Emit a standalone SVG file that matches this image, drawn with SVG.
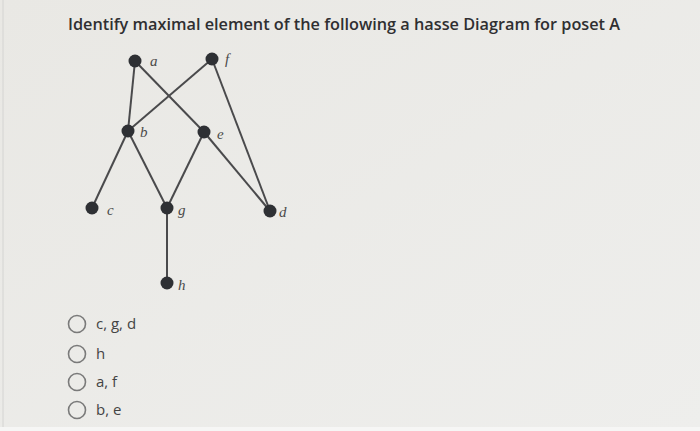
<svg xmlns="http://www.w3.org/2000/svg" width="700" height="431" viewBox="0 0 700 431">
<defs>
<style>
.title{font-family:"Open Sans","Liberation Sans",sans-serif;font-weight:600;font-size:16px;fill:#2f2f31}
.edge{stroke:#4a4a4c;stroke-width:2;fill:none}
.dot{fill:#2e3034}
.lbl{font-family:"Liberation Serif","DejaVu Serif",serif;font-style:italic;font-size:15px;fill:#4a4a4a}
.opt{font-family:"Open Sans","Liberation Sans",sans-serif;font-size:15px;fill:#444}
.radio{fill:none;stroke:#7a7a7a;stroke-width:1.6}
</style>
<linearGradient id="bg" x1="0" y1="0" x2="1" y2="1">
<stop offset="0" stop-color="#e9e8e4"/>
<stop offset="1" stop-color="#eeeeec"/>
</linearGradient>
</defs>
<rect width="700" height="431" fill="url(#bg)"/>
<rect x="0" y="427" width="700" height="4" fill="#f6f6f5"/>
<line x1="3" y1="0" x2="3" y2="427" stroke="#d4d4d2" stroke-width="1"/>
<text class="title" x="68" y="30" textLength="552" lengthAdjust="spacingAndGlyphs">Identify maximal element of the following a hasse Diagram for poset A</text>
<g id="connectors">
<line class="edge" x1="135" y1="61" x2="128" y2="131"/>
<line class="edge" x1="135" y1="61" x2="204" y2="132"/>
<line class="edge" x1="212" y1="59" x2="128" y2="131"/>
<line class="edge" x1="212" y1="59" x2="270" y2="211"/>
<line class="edge" x1="128" y1="131" x2="92" y2="208"/>
<line class="edge" x1="128" y1="131" x2="167" y2="208"/>
<line class="edge" x1="204" y1="132" x2="167" y2="208"/>
<line class="edge" x1="204" y1="132" x2="270" y2="211"/>
<line class="edge" x1="167" y1="208" x2="167" y2="283"/>
</g>
<g id="node-a"><circle class="dot" cx="135" cy="61" r="6.5"/><text class="lbl" x="150" y="66">a</text></g>
<g id="node-f"><circle class="dot" cx="212" cy="59" r="6.5"/><text class="lbl" x="225" y="64">f</text></g>
<g id="node-b"><circle class="dot" cx="128" cy="131" r="6.5"/><text class="lbl" x="140" y="137">b</text></g>
<g id="node-e"><circle class="dot" cx="204" cy="132" r="6.5"/><text class="lbl" x="217" y="139">e</text></g>
<g id="node-c"><circle class="dot" cx="92" cy="208" r="6.5"/><text class="lbl" x="107" y="215">c</text></g>
<g id="node-g"><circle class="dot" cx="167" cy="208" r="6.5"/><text class="lbl" x="178" y="215">g</text></g>
<g id="node-d"><circle class="dot" cx="270" cy="211" r="6.5"/><text class="lbl" x="279" y="217">d</text></g>
<g id="node-h"><circle class="dot" cx="167" cy="283" r="6.5"/><text class="lbl" x="178" y="290">h</text></g>
<g id="options">
<circle class="radio" cx="77" cy="324" r="8.5"/><text class="opt" x="96" y="329">c, g, d</text>
<circle class="radio" cx="77" cy="354" r="8.5"/><text class="opt" x="96" y="359">h</text>
<circle class="radio" cx="77" cy="382" r="8.5"/><text class="opt" x="96" y="387">a, f</text>
<circle class="radio" cx="77" cy="410" r="8.5"/><text class="opt" x="96" y="415">b, e</text>
</g>
</svg>
